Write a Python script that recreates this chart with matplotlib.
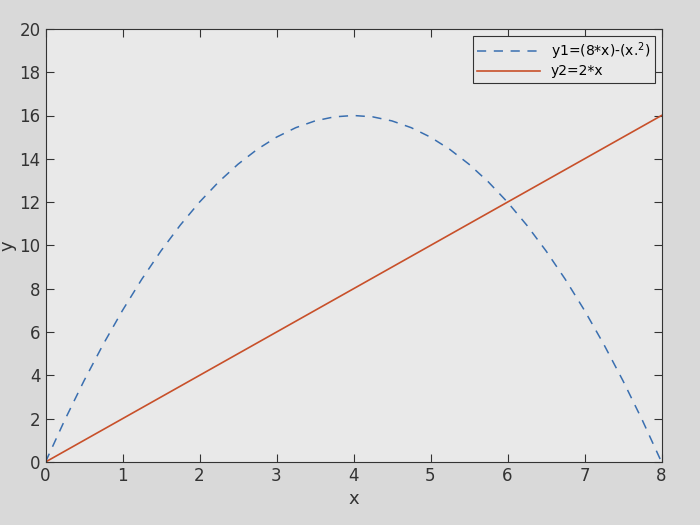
import matplotlib
matplotlib.use("Agg")
import matplotlib.pyplot as plt

x = [0, 0.25, 0.5, 0.75, 1, 1.25, 1.5, 1.75, 2, 2.25, 2.5, 2.75, 3, 3.25, 3.5, 3.75, 4,
     4.25, 4.5, 4.75, 5, 5.25, 5.5, 5.75, 6, 6.25, 6.5, 6.75, 7, 7.25, 7.5, 7.75, 8]
y1 = [0, 1.9375, 3.75, 5.4375, 7, 8.4375, 9.75, 10.9375, 12, 12.9375, 13.75, 14.4375, 15,
      15.4375, 15.75, 15.9375, 16, 15.9375, 15.75, 15.4375, 15, 14.4375, 13.75, 12.9375, 12,
      10.9375, 9.75, 8.4375, 7, 5.4375, 3.75, 1.9375, 0]
y2 = [0, 0.5, 1, 1.5, 2, 2.5, 3, 3.5, 4, 4.5, 5, 5.5, 6, 6.5, 7, 7.5, 8,
      8.5, 9, 9.5, 10, 10.5, 11, 11.5, 12, 12.5, 13, 13.5, 14, 14.5, 15, 15.5, 16]
xticks = [0, 1, 2, 3, 4, 5, 6, 7, 8]
yticks = [0, 2, 4, 6, 8, 10, 12, 14, 16, 18, 20]

fig = plt.figure(figsize=(7, 5.25), dpi=100, facecolor="#d9d9d9")
ax = fig.add_axes([0.065, 0.12, 0.88, 0.825], facecolor="#e9e9e9")
ax.plot(x, y1, color="#3a6fb0", linestyle=(0, (6, 5)), linewidth=1.1, label="y1=(8*x)-(x.$^2$)")
ax.plot(x, y2, color="#c8502a", linestyle="-", linewidth=1.2, label="y2=2*x")
ax.set_xlim(0, 8)
ax.set_ylim(0, 20)
ax.set_xticks(xticks)
ax.set_yticks(yticks)
ax.tick_params(direction="in", top=True, right=True, labelsize=12, colors="#333333", length=6)
for s in ax.spines.values():
    s.set_color("#333333")
ax.set_xlabel("x", fontsize=13, color="#333333")
ax.set_ylabel("y", fontsize=13, color="#333333", labelpad=2)
leg = ax.legend(loc="upper right", fontsize=10, frameon=True, fancybox=False,
                edgecolor="#333333", facecolor="#e9e9e9", framealpha=1,
                handlelength=4.5, borderpad=0.3, labelspacing=0.2)
leg.get_frame().set_linewidth(0.8)
fig.savefig("out.png", dpi=100, facecolor=fig.get_facecolor())
